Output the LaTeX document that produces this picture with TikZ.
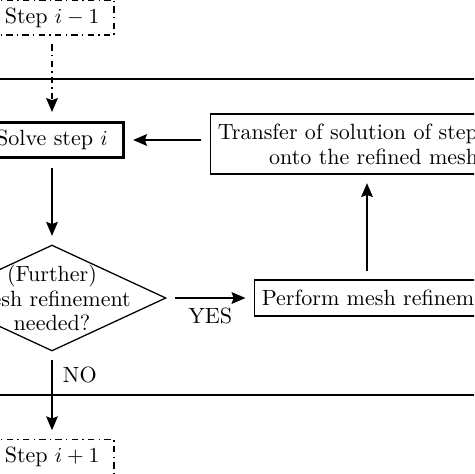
\documentclass[tikz,border=0pt]{standalone}
\usepackage{tikz}
\usetikzlibrary{
  positioning,
  shapes.geometric,
  arrows,
  arrows.meta
}
\tikzstyle{arrow}     = [semithick,-{Stealth[length=6.5pt,width=5.5pt,inset=1pt]},shorten >=4pt,shorten <=4pt]

\begin{document}
\begin{tikzpicture}[x=0.4672pt,y=-0.4672pt,
font=\fontsize{10.3pt}{11.6pt}\selectfont,
stepnode/.style={rectangle, draw, semithick, dash dot, minimum width=58pt, minimum height=16.4pt},
solvenode/.style={rectangle, draw, line width=1.4pt, minimum width=66.4pt, minimum height=16.8pt},
tasknode/.style={rectangle, draw, semithick, align=center},
checknode/.style={diamond, draw, semithick, inner sep=0pt, minimum width=106.5pt, minimum height=49.5pt},
]
\clip (0,0) rectangle (474,474);
%Nodes
\node[stepnode]   (prev)     at (52,17.5) {Step $i-1$};
\node[solvenode]  (solve)    at (52,140) {Solve step $i$};
\node[checknode]  (check)    at (52,298)
  [label={[align=center]center:(Further)\\mesh refinement\\needed?}] {};
\node[stepnode]   (next)     at (52,457) {Step $i+1$};
\node[tasknode]   (transfer) at (210,144) [anchor=west, minimum height=28pt]
  {Transfer of solution of step $i-1$\\onto the refined mesh};
\node[tasknode]   (refine)   at (254,298) [anchor=west, minimum height=16.8pt] {Perform mesh refinement};
\coordinate       (upx)      at (367,0);

%Frame
\draw[semithick] (-5,79) -- (480,79);
\draw[semithick] (-5,395) -- (480,395);

%Lines
\draw[arrow, dash dot] (prev.south) -- (solve.north);
\draw[arrow] (solve.south) -- (check.north);
\draw[arrow] (check.east) -- node[below=1pt] {YES} (refine.west);
\draw[arrow] (refine.north -| upx) -- (transfer.south -| upx);
\draw[arrow] (transfer.west |- solve) -- (solve.east);
\draw[arrow] (check.south) -- node[right=1.5pt, pos=0.27] {NO} (next.north);
\end{tikzpicture}
\end{document}
